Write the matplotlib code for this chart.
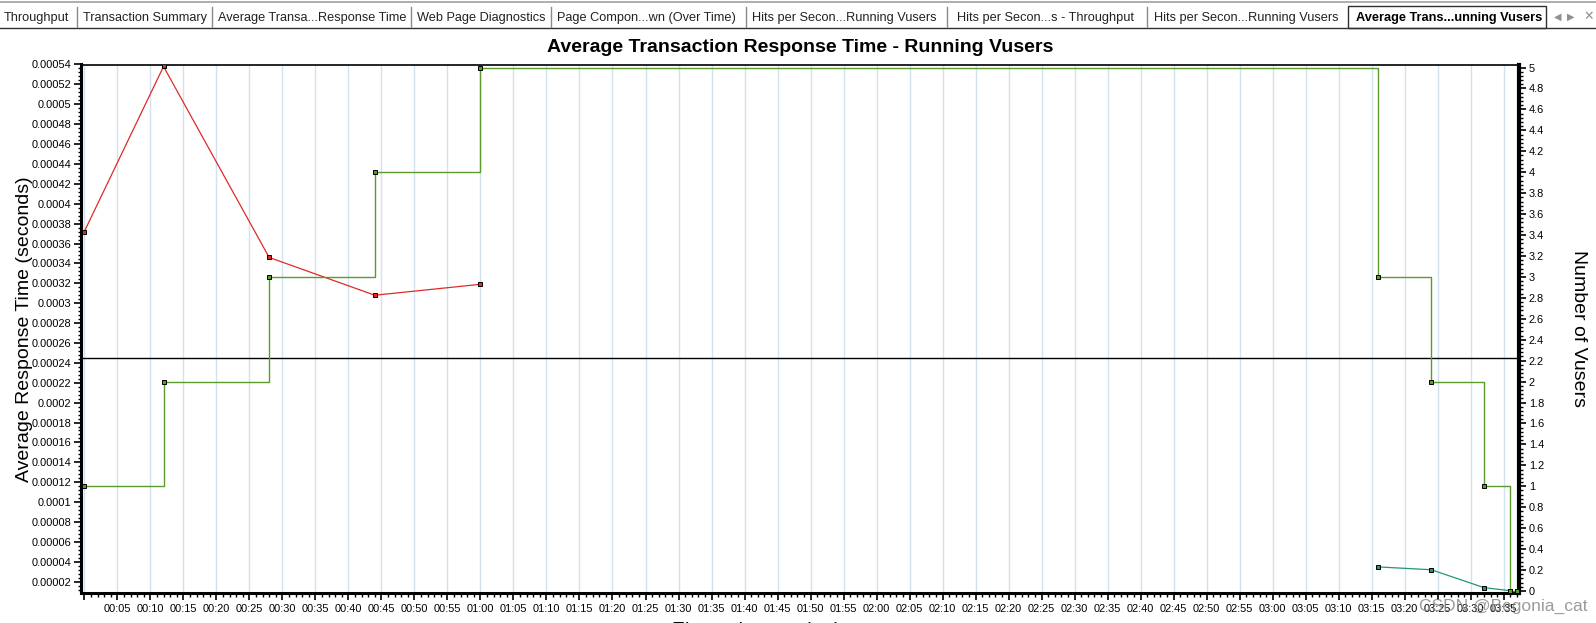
import matplotlib
matplotlib.use("Agg")
import matplotlib.pyplot as plt
from matplotlib.lines import Line2D
from matplotlib.patches import Rectangle
from matplotlib.ticker import FixedLocator, MultipleLocator, FuncFormatter

plt.rcParams['font.family'] = ['Liberation Sans', 'DejaVu Sans']

# ---------------- data ----------------
resp_time_s = [0, 12, 28, 44, 60]
resp_time_v = [0.000372, 0.000538, 0.000346, 0.000308, 0.000319]

resp2_time_s = [196, 204, 212, 216]
resp2_time_v = [0.0000348, 0.0000320, 0.0000140, 0.0000109]

vusers_time_s = [0, 12, 28, 44, 60, 196, 204, 212, 216, 217]
vusers_count = [1, 2, 3, 4, 5, 3, 2, 1, 0, 0]

avg_line_value = 0.000245

tab_labels = ["Throughput", "Transaction Summary", "Average Transa...Response Time",
              "Web Page Diagnostics", "Page Compon...wn (Over Time)",
              "Hits per Secon...Running Vusers", "Hits per Secon...s - Throughput",
              "Hits per Secon...Running Vusers"]
active_tab = "Average Trans...unning Vusers"

title = "Average Transaction Response Time - Running Vusers"
ylabel_left = "Average Response Time (seconds)"
ylabel_right = "Number of Vusers"
xlabel = "Elapsed scenario time mm:ss"

W, H = 1596, 623
fig = plt.figure(figsize=(W / 100, H / 100), dpi=100)
fig.patch.set_facecolor('white')

def fx(px):
    return px / W

def fy(py):
    return 1 - py / H

ax = fig.add_axes([fx(81), fy(593.3), (1519 - 81) / W, (593.3 - 64.5) / H])
ax2 = ax.twinx()

# ---------------- plotting ----------------
ax.plot(resp_time_s, resp_time_v, color='#e02a2a', lw=0.9, marker='s', ms=3.3,
        mfc='#e02a2a', mec='black', mew=0.7, zorder=5)
ax.plot(resp2_time_s, resp2_time_v, color='#23957a', lw=0.9, marker='s', ms=3.3,
        mfc='#23957a', mec='black', mew=0.7, zorder=5)
ax.axhline(avg_line_value, color='black', lw=1.0, zorder=4)

ax2.step(vusers_time_s, vusers_count, where='post', color='#5b9a2c', lw=1.0, zorder=5)
ax2.plot(vusers_time_s, vusers_count, ls='none', marker='s', ms=3.3,
         mfc='#5b9a2c', mec='black', mew=0.7, zorder=6)

# ---------------- axes limits / ticks ----------------
ax.set_xlim(-0.5, 217.3)
ax.set_ylim(0.0000083, 0.00054)
ax2.set_ylim(-0.022, 5.029)

xt = list(range(0, 216, 5))
ax.xaxis.set_major_locator(FixedLocator(xt))
ax.xaxis.set_minor_locator(MultipleLocator(1))
ax.xaxis.set_major_formatter(FuncFormatter(
    lambda v, p: "" if v == 0 else f"{int(v)//60:02d}:{int(v)%60:02d}"))

yt = [i * 0.00002 for i in range(1, 28)]
ax.yaxis.set_major_locator(FixedLocator(yt))
ax.yaxis.set_minor_locator(MultipleLocator(0.000004))
ax.yaxis.set_major_formatter(FuncFormatter(lambda v, p: f"{v:.5f}".rstrip('0')))

ax2.yaxis.set_major_locator(MultipleLocator(0.2))
ax2.yaxis.set_minor_locator(MultipleLocator(0.04))
ax2.yaxis.set_major_formatter(FuncFormatter(lambda v, p: f"{round(v, 1):g}"))

ax.grid(axis='x', which='major', color='#d3e2f0', lw=1.0)
ax.set_axisbelow(True)

ax.tick_params(axis='x', which='major', length=5, width=1.2, labelsize=7.9, pad=3, direction='out')
ax.tick_params(axis='x', which='minor', length=3, width=1.0, direction='out')
ax.tick_params(axis='y', which='major', length=5, width=1.2, labelsize=7.9, pad=2, direction='out')
ax.tick_params(axis='y', which='minor', length=2.5, width=1.0, direction='out')
ax2.tick_params(axis='y', which='major', length=5, width=1.2, labelsize=7.9, pad=2, direction='out')
ax2.tick_params(axis='y', which='minor', length=3, width=1.0, direction='out')

for s in ['left', 'bottom']:
    ax.spines[s].set_linewidth(2.2)
ax.spines['top'].set_linewidth(1.2)
ax.spines['right'].set_visible(False)
for s in ['left', 'bottom', 'top']:
    ax2.spines[s].set_visible(False)
ax2.spines['right'].set_linewidth(3)

# ---------------- labels ----------------
fig.text(fx(800), fy(47), title, ha='center', va='center', fontsize=14, fontweight='bold')
fig.text(fx(25), fy(329), ylabel_left, ha='center', va='center', rotation=90, fontsize=14)
fig.text(fx(1578), fy(329), ylabel_right, ha='center', va='center', rotation=-90, fontsize=14)
fig.text(fx(800), fy(631), xlabel, ha='center', va='center', fontsize=14)

# watermark
fig.text(fx(1503), fy(606), "CSDN @Begonia_cat", ha='center', va='center', fontsize=12.5,
         color='#8a8a8a', alpha=0.85)

# ---------------- tab bar ----------------
fig.add_artist(Line2D([0, 1], [fy(2), fy(2)], transform=fig.transFigure, color='#a0a0a0', lw=1.2))
fig.add_artist(Line2D([0, 1], [fy(28), fy(28)], transform=fig.transFigure, color='#303030', lw=1.0))
tab_x = [4, 83, 218, 417, 557, 752, 957, 1154]
sep_x = [76.5, 211.7, 411, 551, 746, 947, 1146.7]
for x, lab in zip(tab_x, tab_labels):
    fig.text(fx(x), fy(18), lab, ha='left', va='center', fontsize=9.2, color='#222222')
for x in sep_x:
    fig.add_artist(Line2D([fx(x), fx(x)], [fy(7), fy(27)], transform=fig.transFigure,
                          color='#8a8a8a', lw=1.0))
fig.add_artist(Rectangle((fx(1348), fy(28)), fx(1546) - fx(1348), fy(6) - fy(28),
                         transform=fig.transFigure, facecolor='white', edgecolor='#303030', lw=1.0))
fig.text(fx(1356), fy(18), active_tab, ha='left', va='center', fontsize=9.2, fontweight='bold')
fig.text(fx(1558), fy(17), "\u25C0", ha='center', va='center', fontsize=7, color='#909090')
fig.text(fx(1571), fy(17), "\u25B6", ha='center', va='center', fontsize=7, color='#909090')
fig.text(fx(1589), fy(17), "\u2715", ha='center', va='center', fontsize=9, color='#909090')

fig.savefig("out.png", dpi=100)
